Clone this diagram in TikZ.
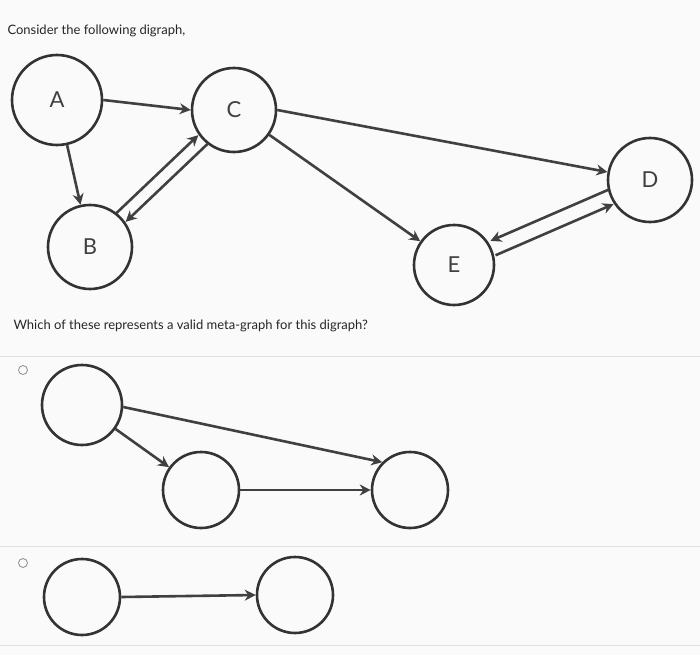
\documentclass[tikz,border=0pt]{standalone}
\usepackage{fontspec}
\setmainfont{Lato}
\usetikzlibrary{arrows.meta}
\begin{document}
\begin{tikzpicture}[x=1pt,y=-1pt,
  vtx/.style={circle,draw=black!80,line width=2.6pt,minimum size=#1,inner sep=0pt,font=\fontsize{22}{22}\selectfont,text=black!75},
  edge/.style={draw=black!75,line width=2.6pt,-{Stealth[length=11pt,width=11pt]}},
  pedge/.style={edge,shorten <=42pt,shorten >=43pt},
  sep/.style={draw=black!12,line width=1pt},
  radio/.style={circle,draw=black!45,line width=0.8pt,minimum size=9pt,inner sep=0pt}]
\fill[white!96!gray] (0,0) rectangle (700,655);
\useasboundingbox (0,0) rectangle (700,655);
\node[anchor=west,font=\fontsize{13}{13}\selectfont,text=black!85] (t1) at (4,31) {Consider the following digraph,};
\node[vtx=90pt] (A) at (57,100) {A};
\node[vtx=84pt] (C) at (234,110) {C};
\node[vtx=84pt] (B) at (90,247) {B};
\node[vtx=80pt] (E) at (454,265) {E};
\node[vtx=84pt] (D) at (650,180) {D};
\draw[edge] (A.east) -- (C.west);
\draw[edge] (A) -- (B);
\draw[pedge] ([shift={(-4.5,-4.5)}]B.center) -- ([shift={(-4.5,-4.5)}]C.center);
\draw[pedge] ([shift={(4.5,4.5)}]C.center) -- ([shift={(4.5,4.5)}]B.center);
\draw[edge] (C) -- (E);
\draw[edge] (C.east) -- (D);
\draw[pedge] ([shift={(-3,-7)}]D.center) -- ([shift={(-3,-7)}]E.center);
\draw[pedge] ([shift={(3,7)}]E.center) -- ([shift={(3,7)}]D.center);
\node[anchor=west,font=\fontsize{13}{13}\selectfont,text=black!85] (t2) at (10,326) {Which of these represents a valid meta-graph for this digraph?};
\draw[sep] (0,356) -- (700,356);
\draw[sep] (0,546) -- (700,546);
\draw[sep] (0,645) -- (700,645);
\node[radio] (r1) at (23,370) {};
\node[radio] (r2) at (23,563) {};
\node[vtx=80pt] (p1) at (82,405) {};
\node[vtx=76pt] (p2) at (201,490) {};
\node[vtx=76pt] (p3) at (410,490) {};
\draw[edge] (p1) -- (p2);
\draw[edge] ([yshift=-2pt]p1.east) -- (p3.north west);
\draw[edge] (p2.east) -- (p3.west);
\node[vtx=76pt] (q1) at (82,597) {};
\node[vtx=76pt] (q2) at (295,595) {};
\draw[edge] (q1.east) -- (q2.west);
\end{tikzpicture}
\end{document}
